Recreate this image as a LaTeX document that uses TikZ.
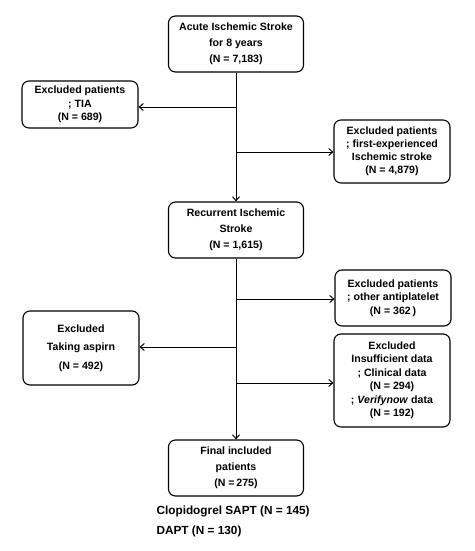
\documentclass[tikz,border=0pt]{standalone}
\usepackage{fontspec}
\setmainfont{Liberation Sans}
\usepackage{tikz}
\usetikzlibrary{arrows.meta}
\tikzset{
    flow-box/.style = {draw=black, fill=white, line width=1.1pt, rectangle, rounded corners=7pt, align=center, font=\bfseries\fontsize{10.6}{16}\selectfont, inner sep=2pt},
    main-box/.style = {flow-box, minimum width=135pt, minimum height=56pt},
    side-box/.style = {flow-box, minimum width=116pt, minimum height=47pt},
    flow-arrow/.style = {-{Straight Barb[length=4pt,width=7pt]}, line width=1pt},
}

\begin{document}
\begin{tikzpicture}[x=1pt,y=-1pt]
\useasboundingbox (0,0) rectangle (474,551);
% main column
\node [main-box] (onset) at (236,44) {Acute Ischemic Stroke\\for 8 years\\(N = 7,183)};
\node [main-box] (recur) at (236,230) {Recurrent Ischemic\\Stroke\\(N = 1,615)};
\node [main-box] (final) at (236,468) {Final included\\patients\\(N =\,275)};
% excluded boxes
\node [side-box, font=\bfseries\fontsize{10.6}{13.5}\selectfont] (tia) at (80,104.5) {Excluded patients\\; TIA\\(N = 689)};
\node [side-box, minimum height=63pt, font=\bfseries\fontsize{10.6}{13}\selectfont] (first) at (392,151.5) {Excluded patients\\; first-experienced\\Ischemic stroke\\(N = 4,879)};
\node [side-box, minimum height=56pt, font=\bfseries\fontsize{10.6}{13.5}\selectfont] (other) at (393,298) {Excluded patients\\; other antiplatelet\\(N = 362\,)};
\node [side-box, minimum height=74pt, font=\bfseries\fontsize{10.6}{18.5}\selectfont] (aspirin) at (81,348) {Excluded\\Taking aspirn\\(N = 492)};
\node [side-box, minimum height=93pt, font=\bfseries\fontsize{10.6}{13.5}\selectfont] (nodata) at (392,380.5) {Excluded\\Insufficient data\\; Clinical data\\(N = 294)\\; \textit{Verifynow} data\\(N = 192)};
% groups
\node [anchor=west, font=\bfseries\fontsize{11.8}{14}\selectfont] (sapt) at (153,511) {Clopidogrel SAPT (N = 145)};
\node [anchor=west, font=\bfseries\fontsize{11.8}{14}\selectfont] (dapt) at (153,531) {DAPT (N = 130)};
% branch points
\coordinate (b1) at (236,107);
\coordinate (b2) at (236,152);
\coordinate (b3) at (236,299);
\coordinate (b4) at (236,347);
\coordinate (b5) at (236,383);
% connectors
\draw [flow-arrow] (onset) -- (recur);
\draw [flow-arrow] (recur) -- (final);
\draw [flow-arrow] (b1) -- (b1 -| tia.east);
\draw [flow-arrow] (b2) -- (b2 -| first.west);
\draw [flow-arrow] (b3) -- (b3 -| other.west);
\draw [flow-arrow] (b4) -- (b4 -| aspirin.east);
\draw [flow-arrow] (b5) -- (b5 -| nodata.west);
\end{tikzpicture}
\end{document}
